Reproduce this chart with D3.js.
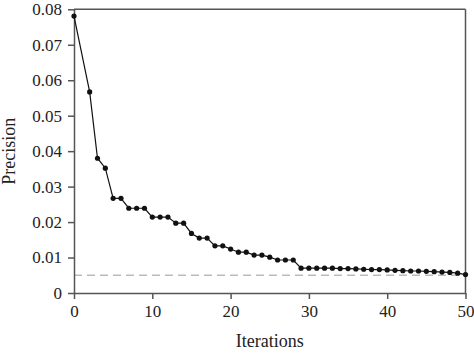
<!DOCTYPE html>
<html><head><meta charset="utf-8">
<script src="https://cdn.jsdelivr.net/npm/d3@7"></script>
<style>body{margin:0;background:#fff}svg{display:block}</style>
</head><body>
<svg id="c" width="474" height="353"></svg>
<script>
const iterations = [0,2,3,4,5,6,7,8,9,10,11,12,13,14,15,16,17,18,19,20,21,22,23,24,25,26,27,28,29,30,31,32,33,34,35,36,37,38,39,40,41,42,43,44,45,46,47,48,49,50];
const precision = [0.0781,0.0567,0.0380,0.0352,0.0267,0.0267,0.0239,0.0239,0.0239,0.0214,0.0214,0.0214,0.0197,0.0197,0.0168,0.0155,0.0155,0.0133,0.0133,0.0124,0.0115,0.0115,0.0107,0.0107,0.0101,0.0093,0.0093,0.0093,0.0070,0.0070,0.0070,0.0070,0.0070,0.0069,0.0069,0.0068,0.0067,0.0066,0.0066,0.0065,0.0064,0.0063,0.0062,0.0062,0.0061,0.0060,0.0059,0.0058,0.0056,0.0052];
const baseline = 0.005;
const xTicks = [0,10,20,30,40,50];
const yTicks = [0,0.01,0.02,0.03,0.04,0.05,0.06,0.07,0.08];

const svg = d3.select("#c");
const L = 74, R = 465.5, T = 9.3, B = 293;
const x = d3.scaleLinear().domain([0,50]).range([L,R]);
const y = d3.scaleLinear().domain([0,0.08]).range([B,T]);
const font = "'Liberation Serif', 'Times New Roman', serif";
const axisColor = "#555";

// dashed baseline
svg.append("line").attr("x1",x(0)).attr("x2",x(50)).attr("y1",y(baseline)).attr("y2",y(baseline))
  .attr("stroke","#bbb").attr("stroke-width",1.3).attr("stroke-dasharray","8,5");

// frame top/right
svg.append("line").attr("x1",L).attr("x2",R).attr("y1",T).attr("y2",T).attr("stroke",axisColor).attr("stroke-width",1.5);
svg.append("line").attr("x1",R).attr("x2",R).attr("y1",T).attr("y2",B).attr("stroke",axisColor).attr("stroke-width",1.5);

const xa = svg.append("g").attr("transform",`translate(0,${B})`)
  .call(d3.axisBottom(x).tickValues(xTicks).tickFormat(d3.format("d")).tickSize(6).tickPadding(6).tickSizeOuter(0));
const ya = svg.append("g").attr("transform",`translate(${L},0)`)
  .call(d3.axisLeft(y).tickValues(yTicks).tickFormat(d => d===0 ? "0" : d3.format(".2f")(d)).tickSize(6).tickPadding(6).tickSizeOuter(0));
[xa,ya].forEach(g=>{
  g.selectAll("path,line").attr("stroke",axisColor).attr("stroke-width",1.5);
  g.selectAll("text").attr("font-family",font).attr("font-size",17).attr("fill","#222");
});

// line and dots
const pts = iterations.map((d,i)=>({x:d,y:precision[i]}));
svg.append("path").datum(pts).attr("fill","none").attr("stroke","#111").attr("stroke-width",1.2)
  .attr("d", d3.line().x(d=>x(d.x)).y(d=>y(d.y)));
svg.selectAll("circle.pt").data(pts).enter().append("circle").attr("class","pt")
  .attr("cx",d=>x(d.x)).attr("cy",d=>y(d.y)).attr("r",2.6).attr("fill","#111");

// labels
svg.append("text").attr("x",(L+R)/2).attr("y",347).attr("text-anchor","middle")
  .attr("font-family",font).attr("font-size",18).attr("fill","#222").text("Iterations");
svg.append("text").attr("transform",`translate(15,${(T+B)/2}) rotate(-90)`).attr("text-anchor","middle")
  .attr("font-family",font).attr("font-size",18).attr("fill","#222").text("Precision");
</script>
</body></html>
